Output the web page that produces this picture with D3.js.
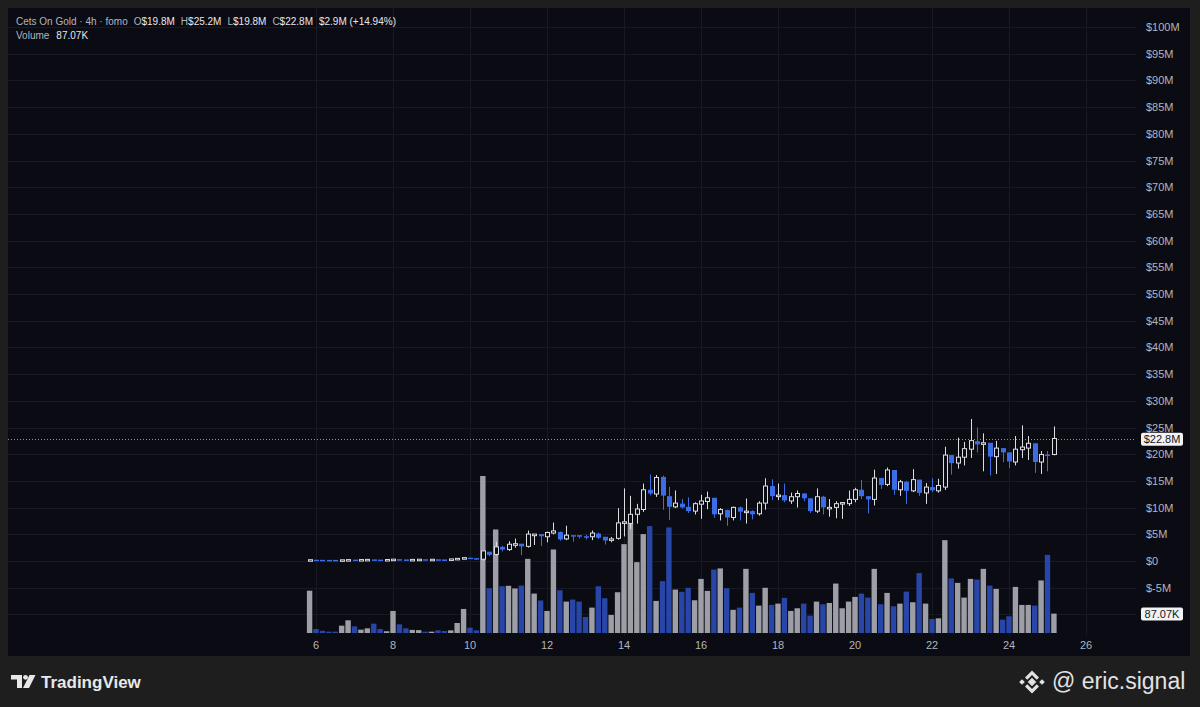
<!DOCTYPE html>
<html lang="en">
<head>
<meta charset="UTF-8">
<title>Cets On Gold · 4h · fomo</title>
<script src="https://d3js.org/d3.v7.min.js"></script>
<style>
  html, body { margin: 0; padding: 0; background: #1e1e1e; }
  svg { display: block; }
  text { font-family: "Liberation Sans", Arial, sans-serif; }
</style>
</head>
<body>
<svg id="chart"></svg>
<script>
const W = 1200, H = 707;

// 4h candles, first one at day 5 20:00
const startDay = 5 + 20 / 24;
const stepDays = 4 / 24;

// prices in $M
const open = [
  0.05, 0.10, 0.08, 0.07, 0.06, 0.05, 0.08, 0.12, 0.10, 0.13, 0.16, 0.12, 0.10, 0.14, 0.20, 0.15, 0.12, 0.16, 0.19, 0.14,
  0.18, 0.15, 0.12, 0.25, 0.35, 0.48, 0.40, 0.20, 1.60, 1.10, 2.50, 2.00, 2.80, 3.10, 2.60, 4.60, 4.90, 4.40, 5.10, 5.30,
  4.00, 4.70, 4.70, 4.50, 4.40, 5.00, 4.40, 3.80, 4.10, 6.90, 6.90, 8.60, 9.50, 13.2, 12.4, 15.6, 12.0, 10.0, 10.6, 10.0,
  9.20, 10.5, 11.0, 11.7, 8.70, 9.40, 8.00, 9.90, 9.00, 9.20, 8.70, 10.7, 13.9, 12.0, 12.2, 11.1, 11.9, 12.5, 11.6, 9.20,
  11.9, 9.70, 9.90, 10.6, 10.6, 11.4, 13.2, 12.0, 11.4, 15.4, 14.2, 16.9, 13.2, 14.7, 13.0, 15.1, 12.6, 13.7, 13.0, 13.7,
  19.7, 18.2, 19.3, 20.8, 22.3, 21.7, 22.0, 19.4, 21.0, 20.2, 18.4, 20.7, 21.0, 21.9, 18.4, 19.8, 19.8
];
const high = [
  0.12, 0.11, 0.09, 0.08, 0.07, 0.10, 0.14, 0.13, 0.15, 0.18, 0.17, 0.13, 0.16, 0.24, 0.21, 0.16, 0.18, 0.21, 0.20, 0.20,
  0.19, 0.16, 0.28, 0.38, 0.52, 0.50, 0.42, 1.90, 1.70, 3.60, 2.80, 3.70, 4.20, 3.20, 5.70, 5.00, 5.00, 5.50, 7.20, 5.50,
  6.60, 4.80, 4.80, 4.90, 5.70, 5.30, 4.50, 4.50, 9.90, 13.6, 12.2, 10.7, 14.5, 16.2, 16.1, 16.0, 13.9, 13.2, 11.6, 11.9,
  11.0, 12.4, 13.0, 11.8, 9.90, 9.60, 10.2, 10.2, 11.7, 9.50, 11.2, 15.5, 15.3, 14.5, 14.5, 12.8, 13.2, 12.7, 11.7, 13.6,
  12.2, 11.6, 11.2, 10.9, 13.2, 13.7, 15.2, 12.1, 17.1, 15.6, 17.5, 17.0, 15.2, 15.0, 17.2, 15.2, 14.6, 15.5, 15.4, 21.4,
  19.8, 23.1, 22.3, 26.6, 25.0, 23.9, 22.1, 22.5, 21.1, 20.3, 23.4, 25.4, 23.4, 22.0, 20.6, 20.6, 25.2
];
const low = [
  0.03, 0.06, 0.05, 0.05, 0.04, 0.04, 0.07, 0.08, 0.09, 0.12, 0.10, 0.09, 0.09, 0.13, 0.13, 0.10, 0.11, 0.15, 0.12, 0.13,
  0.13, 0.10, 0.11, 0.24, 0.34, 0.38, 0.28, 0.05, 0.90, 1.00, 1.80, 1.90, 2.50, 1.10, 2.50, 3.00, 2.80, 3.50, 5.00, 3.80,
  3.90, 3.60, 4.20, 4.00, 3.90, 4.10, 3.10, 3.50, 4.00, 4.60, 6.00, 7.00, 9.20, 12.3, 12.0, 9.60, 7.70, 9.90, 9.80, 9.00,
  8.70, 7.90, 9.70, 8.10, 7.60, 6.60, 7.60, 7.60, 7.00, 7.80, 8.50, 9.60, 11.4, 11.4, 11.0, 10.7, 10.0, 11.2, 9.00, 9.00,
  8.70, 8.30, 8.00, 7.90, 10.3, 11.0, 11.6, 8.90, 10.4, 13.5, 14.0, 12.4, 12.2, 10.7, 12.9, 12.2, 10.7, 12.9, 12.8, 13.3,
  16.2, 17.3, 17.9, 19.3, 20.3, 16.8, 16.0, 16.3, 18.5, 17.4, 17.9, 19.3, 18.9, 16.5, 16.3, 16.8, 19.8
];
const close = [
  0.10, 0.08, 0.07, 0.06, 0.05, 0.08, 0.12, 0.10, 0.13, 0.16, 0.12, 0.10, 0.14, 0.20, 0.15, 0.12, 0.16, 0.19, 0.14, 0.18,
  0.15, 0.12, 0.25, 0.35, 0.48, 0.40, 0.30, 1.75, 1.00, 2.50, 2.00, 3.00, 3.10, 2.60, 4.90, 4.90, 4.50, 5.20, 5.50, 3.90,
  4.70, 4.60, 4.40, 4.40, 5.10, 4.20, 3.70, 4.00, 7.00, 7.20, 8.60, 9.60, 13.2, 12.5, 15.5, 12.1, 10.0, 10.7, 9.90, 9.20,
  10.6, 11.1, 11.7, 8.60, 9.50, 8.00, 9.90, 9.10, 9.20, 8.60, 10.7, 13.9, 12.0, 12.2, 11.2, 11.9, 12.5, 11.6, 9.20, 11.9,
  9.90, 9.90, 10.6, 10.8, 11.4, 13.2, 12.0, 11.4, 15.4, 14.1, 16.9, 13.2, 14.7, 13.0, 15.1, 12.6, 13.7, 13.1, 14.0, 19.7,
  18.2, 19.3, 20.9, 22.4, 21.7, 22.0, 19.4, 21.0, 20.2, 18.5, 20.8, 21.2, 21.9, 18.4, 19.8, 19.6, 22.8
];
// volume in K
const volume = [
  190, 18, 10, 6, 6, 33, 57, 30, 15, 21, 42, 18, 8, 99, 39, 21, 14, 13, 6, 6,
  12, 9, 12, 45, 108, 24, 12, 705, 201, 465, 210, 212, 200, 213, 333, 177, 146, 99, 375, 192,
  141, 150, 141, 72, 114, 210, 156, 81, 183, 399, 495, 318, 444, 480, 144, 233, 474, 195, 185, 203,
  147, 243, 189, 285, 290, 201, 104, 114, 288, 180, 123, 203, 126, 132, 158, 99, 111, 132, 78, 141,
  129, 135, 222, 111, 141, 162, 177, 159, 288, 129, 180, 120, 132, 186, 138, 269, 132, 63, 66, 417,
  245, 225, 159, 243, 240, 288, 213, 198, 60, 75, 207, 126, 126, 123, 236, 351, 87.07
];

// change shown in the legend (from unrounded prices)
const lastChange = 2.9;
const lastChangePct = 14.94;

const dayTicks = [6, 8, 10, 12, 14, 16, 18, 20, 22, 24, 26];
const priceTicks = [-10, -5, 0, 5, 10, 15, 20, 25, 30, 35, 40, 45, 50, 55, 60, 65, 70, 75, 80, 85, 90, 95, 100];

const candles = open.map((o, i) => ({
  t: startDay + i * stepDays,
  o: o, h: high[i], l: low[i], c: close[i], v: volume[i],
  up: close[i] >= o
}));
const last = candles[candles.length - 1];

const colors = {
  page: "#1e1e1e",
  panel: "#0b0b13",
  grid: "#191921",
  text: "#b2b5be",
  value: "#e6e8ee",
  upLine: "#dcdde2",
  down: "#3b6de6",
  volUp: "#9e9ea6",
  volDown: "#2846a8"
};

const panel = { x: 8, y: 8, w: 1182, h: 648 };
const plotRight = 1136, plotBottom = 636;

const svg = d3.select("#chart").attr("width", W).attr("height", H);

svg.append("rect").attr("width", W).attr("height", H).attr("fill", colors.page);
svg.append("rect")
  .attr("x", panel.x).attr("y", panel.y)
  .attr("width", panel.w).attr("height", panel.h)
  .attr("fill", colors.panel);

const x = d3.scaleLinear().domain([6, 26]).range([316, 1086]);
const y = d3.scaleLinear().domain([0, 100]).range([561, 27]);
const yVol = d3.scaleLinear().domain([0, d3.max(volume)]).range([633, 476]);

svg.append("clipPath").attr("id", "plot-clip")
  .append("rect").attr("x", panel.x).attr("y", panel.y)
  .attr("width", plotRight - panel.x).attr("height", plotBottom - panel.y);

// grid
const grid = svg.append("g").attr("clip-path", "url(#plot-clip)");
grid.selectAll("line.h").data(priceTicks).join("line")
  .attr("x1", panel.x).attr("x2", plotRight)
  .attr("y1", d => Math.round(y(d)) + 0.5).attr("y2", d => Math.round(y(d)) + 0.5)
  .attr("stroke", colors.grid);
grid.selectAll("line.v").data(dayTicks).join("line")
  .attr("x1", d => Math.round(x(d)) + 0.5).attr("x2", d => Math.round(x(d)) + 0.5)
  .attr("y1", panel.y).attr("y2", plotBottom)
  .attr("stroke", colors.grid);

const plot = svg.append("g").attr("clip-path", "url(#plot-clip)");

// volume bars
plot.append("g").selectAll("rect").data(candles).join("rect")
  .attr("x", d => x(d.t) - 2.7)
  .attr("width", 5.4)
  .attr("y", d => yVol(d.v))
  .attr("height", d => yVol(0) - yVol(d.v))
  .attr("fill", d => d.up ? colors.volUp : colors.volDown);

// current price line
plot.append("line")
  .attr("x1", panel.x).attr("x2", plotRight)
  .attr("y1", Math.round(y(last.c)) + 0.5).attr("y2", Math.round(y(last.c)) + 0.5)
  .attr("stroke", "#8e919a").attr("stroke-dasharray", "1,2");

// candles
const candle = plot.append("g").selectAll("g").data(candles).join("g");
candle.append("line")
  .attr("x1", d => Math.round(x(d.t)) + 0.5).attr("x2", d => Math.round(x(d.t)) + 0.5)
  .attr("y1", d => y(d.h)).attr("y2", d => y(d.l))
  .attr("stroke", d => d.up ? colors.upLine : colors.down);
candle.append("rect")
  .attr("x", d => Math.round(x(d.t)) - 2 + (d.up ? 0.5 : 0))
  .attr("width", d => d.up ? 4 : 5)
  .attr("y", d => y(Math.max(d.o, d.c)) - 0.75)
  .attr("height", d => Math.max(1.5, y(Math.min(d.o, d.c)) - y(Math.max(d.o, d.c))))
  .attr("fill", d => d.up ? colors.panel : colors.down)
  .attr("stroke", d => d.up ? colors.upLine : "none");

// price scale
svg.append("g").selectAll("text").data(priceTicks.filter(d => d > -10)).join("text")
  .attr("x", 1146).attr("y", d => y(d) + 4)
  .attr("font-size", 11).attr("fill", colors.text)
  .text(d => d === 0 ? "$0" : "$" + d + "M");

// time scale
svg.append("g").selectAll("text").data(dayTicks).join("text")
  .attr("x", d => x(d)).attr("y", 649)
  .attr("text-anchor", "middle")
  .attr("font-size", 11).attr("fill", colors.text)
  .text(d => d);

// last value labels
function valueTag(yc, label) {
  svg.append("rect")
    .attr("x", 1141).attr("y", yc - 6.5).attr("width", 42).attr("height", 13)
    .attr("rx", 2).attr("fill", "#f2f2f4");
  svg.append("text")
    .attr("x", 1162).attr("y", yc + 4).attr("text-anchor", "middle")
    .attr("font-size", 11).attr("fill", "#131722")
    .text(label);
}
valueTag(y(last.c), "$" + last.c + "M");
valueTag(yVol(last.v) + 0.5, d3.format(".2f")(last.v) + "K");

// legend
const legend = svg.append("g").attr("font-size", 10);
const line1 = legend.append("text").attr("x", 16).attr("y", 25);
line1.append("tspan").attr("fill", colors.text).text("Cets On Gold · 4h · fomo");
[["O", last.o], ["H", last.h], ["L", last.l], ["C", last.c]].forEach(([k, v]) => {
  line1.append("tspan").attr("dx", 6).attr("fill", colors.text).text(k);
  line1.append("tspan").attr("fill", colors.value).text("$" + v + "M");
});
line1.append("tspan").attr("dx", 6).attr("fill", colors.value)
  .text("$" + lastChange + "M (+" + lastChangePct + "%)");
const line2 = legend.append("text").attr("x", 16).attr("y", 39);
line2.append("tspan").attr("fill", colors.text).text("Volume");
line2.append("tspan").attr("dx", 7).attr("fill", colors.value)
  .text(d3.format(".2f")(last.v) + "K");

// footer: TradingView mark
const tv = svg.append("g").attr("fill", "#e8e8ea");
tv.append("path").attr("d", "M11,675 h11 v13 h-5 v-8.5 h-6 z");
tv.append("circle").attr("cx", 25.5).attr("cy", 677.3).attr("r", 2.4);
tv.append("path").attr("d", "M23,688 l6.5,-13 h6 l-6.5,13 z");
svg.append("text").attr("x", 41).attr("y", 688)
  .attr("font-family", "Inter, 'Noto Sans', sans-serif").attr("font-weight", 600)
  .attr("font-size", 17).attr("fill", "#e8e8ea").text("TradingView");

// footer: author tag with diamond mark
const bn = svg.append("g").attr("transform", "translate(1032,682)").attr("fill", "#e2e2e4");
bn.append("rect").attr("x", -3).attr("y", -3).attr("width", 6).attr("height", 6).attr("transform", "rotate(45)");
bn.append("rect").attr("x", -2).attr("y", -2).attr("width", 4).attr("height", 4).attr("transform", "translate(-10,0) rotate(45)");
bn.append("rect").attr("x", -2).attr("y", -2).attr("width", 4).attr("height", 4).attr("transform", "translate(10,0) rotate(45)");
bn.append("path").attr("d", "M-7,-4.5 L0,-11.5 L7,-4.5 L4.7,-2.2 L0,-6.9 L-4.7,-2.2 Z");
bn.append("path").attr("d", "M-7,4.5 L0,11.5 L7,4.5 L4.7,2.2 L0,6.9 L-4.7,2.2 Z");
svg.append("text").attr("x", 1052).attr("y", 689)
  .attr("font-family", "'Open Sans', 'Noto Sans', sans-serif")
  .attr("font-size", 23).attr("fill", "#e2e2e4").text("@ eric.signal");
</script>
</body>
</html>
